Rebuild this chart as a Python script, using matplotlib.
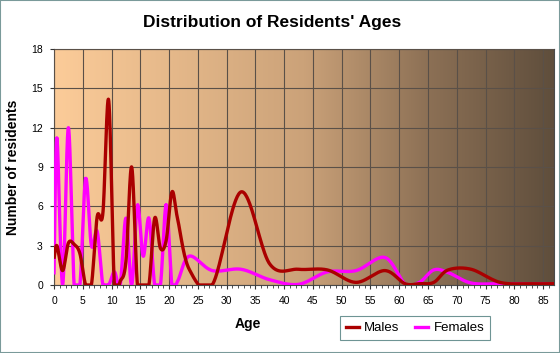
import numpy as np
import matplotlib
matplotlib.use("Agg")
import matplotlib.pyplot as plt
from matplotlib.patches import Rectangle
from matplotlib.lines import Line2D

plt.rcParams['font.family'] = ['Liberation Sans', 'DejaVu Sans']

# Age-group positions (midpoints) on the x axis
age_pos = [0, 0.5, 1.5, 2.5, 3.5, 4.5, 5.5, 6.5, 7.5, 8.5, 9.5, 10.5, 11.5, 12.5,
           13.5, 14.5, 15.5, 16.5, 17.5, 18.5, 19.5, 20.5, 21.5, 23.5, 27.5,
           32.5, 37.5, 42.5, 47.5, 52.5, 57.5, 61, 63.5, 66, 68.5, 72.5, 77.5,
           82.5, 87]

males = [2.0, 3.0, 1.1, 3.2, 3.1, 2.4, 0, 0, 5.2, 5.5, 14.1, 0, 0.3, 1.8,
         9.0, 0, 0, 0, 5.1, 2.8, 3.4, 7.1, 5.0, 1.2, 0,
         7.1, 1.6, 1.2, 1.15, 0.2, 1.1, 0.1, 0.1, 0.2, 1.15, 1.2, 0.2,
         0.1, 0.1]

females = [0.8, 11.2, 0, 12.0, 0, 0, 8.1, 3.0, 4.1, 0, 0, 1.0, 0, 5.1,
           0, 6.1, 2.2, 5.1, 0, 0, 6.1, 0, 0.3, 2.2, 1.1,
           1.2, 0.4, 0.05, 1.0, 1.1, 2.1, 0.1, 0.2, 1.15, 0.95, 0.15, 0.1,
           0.1, 0.1]

x_ticks = list(range(0, 90, 5))
y_ticks = list(range(0, 19, 3))


def smooth(xs, ys, n=40):
    P = np.column_stack([xs, ys]).astype(float)
    P = np.vstack([P[0], P, P[-1]])
    out = []
    t = np.linspace(0, 1, n)[:, None]
    for i in range(1, len(P) - 2):
        p0, p1, p2, p3 = P[i - 1], P[i], P[i + 1], P[i + 2]
        seg = 0.5 * (2 * p1 + (-p0 + p2) * t + (2 * p0 - 5 * p1 + 4 * p2 - p3) * t ** 2
                     + (-p0 + 3 * p1 - 3 * p2 + p3) * t ** 3)
        out.append(seg)
    S = np.vstack(out)
    return S[:, 0], np.maximum(S[:, 1], 0)


fig = plt.figure(figsize=(5.6, 3.53), dpi=100, facecolor='white')
ax = fig.add_axes([54 / 560, 1 - 285 / 353, 500 / 560, 236 / 353])

# gradient background
stops_t = [0, 0.5, 0.75, 1.0]
stops_c = np.array([[252, 204, 153], [203, 162, 121], [140, 112, 85], [95, 78, 60]]) / 255
tt = np.linspace(0, 1, 400)
grad = np.stack([np.interp(tt, stops_t, stops_c[:, k]) for k in range(3)], axis=-1)[None, :, :]
ax.imshow(grad, extent=[0, 1, 0, 1], transform=ax.transAxes, aspect='auto', zorder=0)

xm, ym = smooth(age_pos, males)
xf, yf = smooth(age_pos, females)
ax.plot(xf, yf, color='#ff00ff', lw=2.4, zorder=3, solid_capstyle='butt')
ax.plot(xm, ym, color='#aa0000', lw=2.4, zorder=4, solid_capstyle='butt')

ax.set_xlim(0, 86.9)
ax.set_ylim(0, 18)
ax.set_xticks(x_ticks)
ax.set_yticks(y_ticks)
ax.set_xticks(np.arange(0, 87, 1), minor=True)
ax.grid(True, which='major', color='#5a5048', lw=0.8, zorder=1)
ax.set_axisbelow(False)
for sp in ax.spines.values():
    sp.set_color('#4a4a4a')
    sp.set_linewidth(0.8)
ax.tick_params(axis='both', which='major', labelsize=7.5, length=3, color='#333333', pad=5)
ax.tick_params(axis='x', which='minor', length=2, color='#333333')
for lab in ax.get_xticklabels() + ax.get_yticklabels():
    lab.set_zorder(5)

fig.text(0.486, 1 - 23 / 353, "Distribution of Residents' Ages", ha='center', va='center',
         fontsize=12.5, fontweight='bold')
fig.text(248 / 560, 1 - 324 / 353, 'Age', ha='center', va='center', fontsize=10,
         fontweight='bold')
fig.text(13 / 560, 1 - 167 / 353, 'Number of residents', ha='center', va='center',
         fontsize=10, fontweight='bold', rotation=90)

handles = [Line2D([], [], color='#aa0000', lw=2.4), Line2D([], [], color='#ff00ff', lw=2.4)]
leg = fig.legend(handles, ['Males', 'Females'], loc='center',
                 bbox_to_anchor=(415 / 560, 1 - 328 / 353), ncol=2, fontsize=9.5,
                 frameon=True, fancybox=False, handlelength=1.0, handletextpad=0.4,
                 columnspacing=1.2, borderpad=0.45)
leg.get_frame().set_edgecolor('#4a7a7a')
leg.get_frame().set_linewidth(0.8)

fig.patches.append(Rectangle((0, 0), 1, 1, transform=fig.transFigure, fill=False,
                             edgecolor='#7a9a9a', lw=1.5))

fig.savefig('out.png', dpi=100, facecolor='white')
